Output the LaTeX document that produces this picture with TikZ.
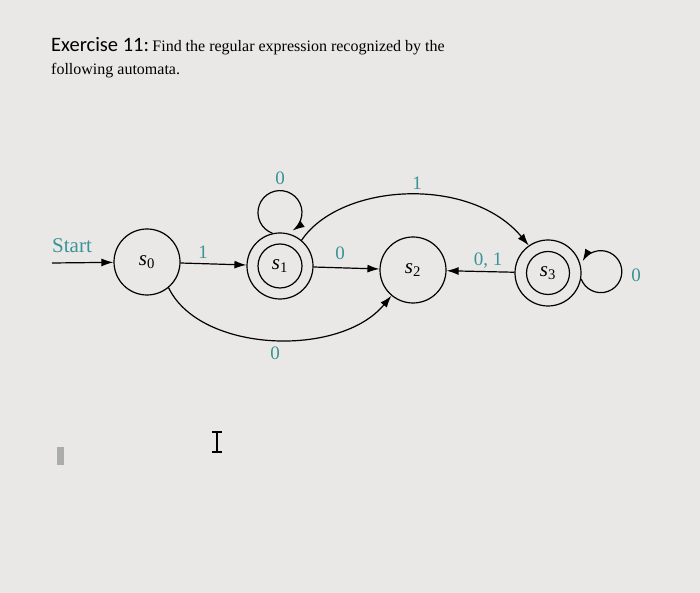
\documentclass[tikz,border=0pt]{standalone}
\usepackage{fontspec}
\setmainfont{Liberation Serif}
\newfontfamily\titlefont{Carlito}
\usetikzlibrary{arrows.meta}
\definecolor{bgc}{RGB}{234,232,230}
\definecolor{lab}{RGB}{58,148,150}
\begin{document}
\begin{tikzpicture}[x=1pt,y=1pt,
  ring/.style={draw,circle,line width=1.2pt,minimum size=66pt,inner sep=0pt,font=\fontsize{21}{21}\selectfont},
  inring/.style={ring,minimum size=44pt},
  arr/.style={line width=1.2pt,-{Latex[length=12pt,width=8pt]}},
  lbl/.style={text=lab,font=\fontsize{19}{19}\selectfont,inner sep=0pt}]
\fill[bgc] (0,0) rectangle (700,593);
\useasboundingbox (0,0) rectangle (700,593);
% title
\node[anchor=base west,inner sep=0pt] (title1) at (51,541)
  {{\titlefont\fontsize{20.5}{20.5}\selectfont Exercise 11:} \fontsize{16}{16}\selectfont Find the regular expression recognized by the};
\node[anchor=base west,inner sep=0pt] (title2) at (51,518)
  {\fontsize{16}{16}\selectfont following automata.};
% states
\node[ring] (s0) at (147,331) {\textit{s}\textsubscript{0}};
\node[ring] (s1) at (280,327) {};
\node[inring] (s1i) at (280,327) {\textit{s}\textsubscript{1}};
\node[ring] (s2) at (413,323) {\textit{s}\textsubscript{2}};
\node[ring] (s3) at (548,320) {};
\node[inring,minimum size=43pt] (s3i) at (548,320) {\textit{s}\textsubscript{3}};
% start
\coordinate (st) at (52,330);
\node[lbl,anchor=base,font=\fontsize{21}{21}\selectfont] (start) at (72,340) {Start};
\draw[arr] (st) -- (s0);
% edges
\draw[arr] (s0) -- (s1);
\node[lbl,anchor=base] (l01) at (203,334) {1};
\draw[arr] (s1) -- (s2);
\node[lbl,anchor=base] (l12) at (340,333) {0};
\draw[arr] (s3) -- (s2);
\node[lbl,anchor=base] (l32) at (488,327) {0, 1};
% loops
\draw[arr] (s1.103) arc[start angle=250,end angle=-55,radius=22];
\node[lbl,anchor=base] (l11) at (280,408) {0};
\draw[arr] (s3.-10) arc[start angle=200,end angle=510,radius=21];
\node[lbl,anchor=base] (l33) at (636,311) {0};
% curves
\draw[arr] (s1.50) .. controls (340,410) and (470,418) .. (s3.125);
\node[lbl,anchor=base] (l13) at (417,403) {1};
\draw[arr] (s0.-50) .. controls (200,240) and (340,235) .. (s2.-130);
\node[lbl,anchor=base] (l02) at (275,233) {0};
% cursor artifacts
\fill[gray!65] (57,128) rectangle (64,146);
\draw[line width=1.1pt] (217,141) -- (217,161) (212,161) -- (222,161) (212,141) -- (222,141);
\end{tikzpicture}
\end{document}
